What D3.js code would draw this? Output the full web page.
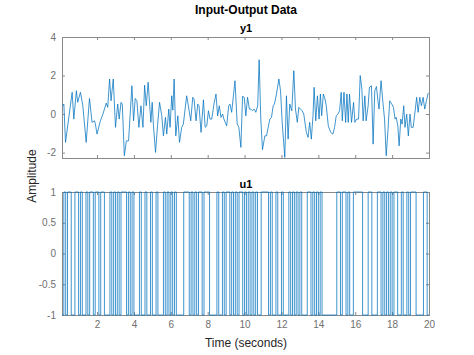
<!DOCTYPE html>
<html><head><meta charset="utf-8">
<script src="https://cdn.jsdelivr.net/npm/d3@7"></script>
<style>body{margin:0;background:#fff} text{font-family:"Liberation Sans",Arial,sans-serif}</style>
</head><body><svg id="c" width="474" height="355"></svg>
<script>
// Output y1: vertices (time in seconds, amplitude)
const y1Time = [0.14,0.2,0.29,0.65,0.74,0.88,0.95,1.1,1.23,1.41,1.59,1.73,1.86,1.91,2.0,2.18,2.32,2.5,2.58,2.68,2.76,2.88,3.0,3.12,3.2,3.3,3.37,3.48,3.59,3.71,3.89,3.98,4.07,4.16,4.27,4.38,4.49,4.58,4.67,4.77,4.92,4.99,5.06,5.17,5.28,5.39,5.51,5.6,5.71,5.78,5.89,5.96,6.05,6.11,6.18,6.27,6.38,6.47,6.59,6.68,6.86,6.95,7.08,7.19,7.26,7.37,7.46,7.53,7.64,7.77,7.86,7.95,8.04,8.13,8.22,8.34,8.45,8.54,8.63,8.72,8.81,8.88,9.03,9.14,
9.21,9.3,9.48,9.6,9.69,9.8,9.89,9.98,10.07,10.16,10.26,10.34,10.43,10.52,10.61,10.71,10.79,10.88,10.97,11.1,11.19,11.28,11.37,11.46,11.55,11.62,11.73,11.86,11.95,12.04,12.18,12.27,12.36,12.45,12.56,12.67,12.76,12.86,12.94,13.03,13.12,13.21,13.35,13.44,13.53,13.62,13.71,13.77,13.86,13.95,14.04,14.11,14.18,14.27,14.36,14.43,14.54,14.67,14.79,14.88,14.97,15.06,15.15,15.24,15.3,15.39,15.48,15.55,15.62,15.69,15.8,15.91,15.98,16.07,16.18,16.27,16.36,16.43,16.52,16.59,16.7,16.77,16.88,16.97,17.06,17.15,17.24,17.29,17.4,17.5,17.59,17.68,17.78,17.87,17.98,18.07,18.16,18.22,18.31,18.38,18.47,18.54,18.63,18.7,18.79,18.88,18.97,19.04,19.14,19.26,19.33,19.41,19.5,19.59,19.68,19.77,19.86,19.96];
const y1 = [0.43,0.52,-1.47,1.13,-0.26,1.21,0.61,1.13,0.43,-1.47,0.81,-0.43,-0.35,-0.52,-1.04,-0.35,0,0.57,0.35,1.82,0.69,1.82,-0.69,0.52,-0.26,0.61,0.52,-2.16,-1.39,-1.39,1.47,-0.35,0.81,0.69,-0.69,0.43,-0.69,1.5,0.43,1.65,-0.43,0.61,-0.61,-1.99,-0.61,0.61,-0.09,-1.13,-0.17,-1.04,0.26,-0.69,0.95,0.2,1.82,-1.13,-0.09,-1.47,-0.69,-0.52,0.95,0.43,-0.35,0.87,0.78,-0.35,0.52,0.43,-0.95,0.74,-0.69,-0.61,0.17,-0.26,-0.26,0.52,1.04,-0.09,0.43,-0.17,0,-0.26,-0.61,0.43,
0.52,0.09,1.73,-0.52,-0.69,-1.73,0.92,0.87,-0.09,0.87,0.26,0.26,0.17,0.26,0.09,0.43,2.82,-0.26,-1.85,-1.13,-1.13,-0.69,-0.26,-0.17,0.43,0.52,1.04,1.82,1.21,-0.43,-2.25,0.95,-1.3,0.52,0.17,2.25,0.26,-0.43,0.35,0.26,0.17,0,-0.95,-1.21,-0.43,-1.3,-0.09,1.39,-0.35,0.95,-0.26,1.04,-0.09,1.04,0.78,0.43,-0.61,-0.95,-1.04,-0.69,-0.09,0,0.17,1.13,-0.35,1.13,-0.43,1.04,-0.43,1.04,-0.43,0.61,-0.43,-0.26,-0.26,2.0,1.3,-0.35,0.95,-0.35,0.43,1.39,1.47,-1.56,1.21,1.43,0.61,0.26,1.73,0.61,-0.26,-2.16,-0.78,0.69,0.52,0.35,-0.26,-0.17,-0.61,-1.65,-0.26,-0.52,0.43,-0.69,0,-1.13,0,-0.69,-0.69,0.26,0.87,0.09,0.87,0.43,0.87,0.26,0.69,1.1];

// Input u1: binary signal, one value per sample (Ts = 0.1 s)
const Ts = 0.1;
const u1 = [
-1,1,-1,1,1,-1,-1,1,1,-1,
1,-1,-1,1,-1,1,1,-1,1,1,
-1,1,1,-1,-1,-1,1,-1,1,-1,
1,-1,1,1,1,-1,1,-1,1,-1,
-1,-1,1,-1,-1,1,-1,-1,1,-1,
-1,1,-1,-1,-1,1,-1,1,-1,1,
-1,1,-1,-1,-1,-1,1,1,1,-1,
1,-1,1,-1,1,1,-1,1,1,1,
-1,-1,-1,-1,1,-1,-1,1,-1,1,
1,-1,1,-1,1,-1,1,1,-1,1,
-1,1,-1,1,-1,1,-1,-1,1,1,
1,1,-1,1,-1,-1,1,-1,-1,1,
-1,-1,-1,1,-1,1,-1,1,-1,1,
-1,-1,-1,1,1,-1,1,-1,1,-1,
1,-1,-1,-1,-1,-1,-1,-1,-1,1,
1,-1,1,1,-1,1,-1,-1,1,1,
1,1,1,-1,-1,-1,1,1,-1,-1,
-1,1,1,-1,1,-1,1,-1,1,-1,
1,1,-1,-1,1,-1,-1,1,-1,1,
1,1,-1,-1,-1,-1,1,1,-1,-1];

const xTicks = [2,4,6,8,10,12,14,16,18,20];
const y1Ticks = [-2,0,2,4];
const u1Ticks = [-1,-0.5,0,0.5,1];
const titleText = "Input-Output Data";
const panelTitles = ["y1","u1"];
const xLabel = "Time (seconds)";
const yLabel = "Amplitude";

const svg = d3.select("#c");
const axisColor = "#8a8a8a", tickTextColor = "#6f6f6f", lineColor = "#0072BD";
const L = 62, R = 429;
const x = d3.scaleLinear().domain([0.1, 20]).range([L, R]);
const yTop = d3.scaleLinear().domain([-2.28, 4]).range([158, 37]);
const yBot = d3.scaleLinear().domain([-1, 1]).range([315, 192]);

function panel(y, yTicks, showX, id) {
  const g = svg.append("g");
  const [b, t] = y.range();
  g.append("clipPath").attr("id", id).append("rect").attr("x", L).attr("y", t - 1).attr("width", R - L).attr("height", b - t + 2);
  g.append("rect").attr("x", L).attr("y", t).attr("width", R - L).attr("height", b - t)
    .attr("fill", "none").attr("stroke", axisColor).attr("stroke-width", 1).attr("shape-rendering", "crispEdges");
  const fmt = d => String(d);
  const ax = [
    g.append("g").attr("transform", `translate(0,${b})`).call(d3.axisBottom(x).tickValues(xTicks).tickSize(-3).tickPadding(6).tickFormat(showX ? fmt : () => "")),
    g.append("g").attr("transform", `translate(0,${t})`).call(d3.axisTop(x).tickValues(xTicks).tickSize(-3).tickFormat(() => "")),
    g.append("g").attr("transform", `translate(${L},0)`).call(d3.axisLeft(y).tickValues(yTicks).tickSize(-3).tickPadding(6).tickFormat(fmt)),
    g.append("g").attr("transform", `translate(${R},0)`).call(d3.axisRight(y).tickValues(yTicks).tickSize(-3).tickFormat(() => ""))
  ];
  ax.forEach(a => {
    a.select(".domain").remove();
    a.selectAll("line").attr("stroke", axisColor);
    a.selectAll("text").attr("fill", tickTextColor).attr("font-size", 10).attr("font-family", '"Liberation Sans",Arial,sans-serif');
  });
  return g;
}

const gTop = panel(yTop, y1Ticks, false, "clipTop");
const gBot = panel(yBot, u1Ticks, true, "clipBot");

gTop.append("path").datum(y1.map((v, i) => [y1Time[i], v]))
  .attr("clip-path", "url(#clipTop)")
  .attr("fill", "none").attr("stroke", lineColor).attr("stroke-width", 0.75).attr("stroke-linejoin", "round")
  .attr("d", d3.line().x(d => x(d[0])).y(d => yTop(d[1])));

gBot.append("path").datum(u1.map((v, i) => [(i + 1) * Ts, v]))
  .attr("clip-path", "url(#clipBot)")
  .attr("fill", "none").attr("stroke", lineColor).attr("stroke-width", 0.75)
  .attr("d", d3.line().curve(d3.curveStepAfter).x(d => x(d[0])).y(d => yBot(d[1])));

const cx = (L + R) / 2 + 0.5;
svg.append("text").attr("x", cx).attr("y", 14).attr("text-anchor", "middle").attr("font-weight", "bold").attr("font-size", 12).attr("fill", "#000").text(titleText);
svg.append("text").attr("x", cx).attr("y", 32).attr("text-anchor", "middle").attr("font-weight", "bold").attr("font-size", 11).attr("fill", "#000").text(panelTitles[0]);
svg.append("text").attr("x", cx).attr("y", 188).attr("text-anchor", "middle").attr("font-weight", "bold").attr("font-size", 11).attr("fill", "#000").text(panelTitles[1]);
svg.append("text").attr("x", cx).attr("y", 347).attr("text-anchor", "middle").attr("font-size", 12).attr("fill", "#262626").text(xLabel);
svg.append("text").attr("transform", "translate(36,176) rotate(-90)").attr("text-anchor", "middle").attr("font-size", 12).attr("fill", "#262626").text(yLabel);
</script></body></html>
